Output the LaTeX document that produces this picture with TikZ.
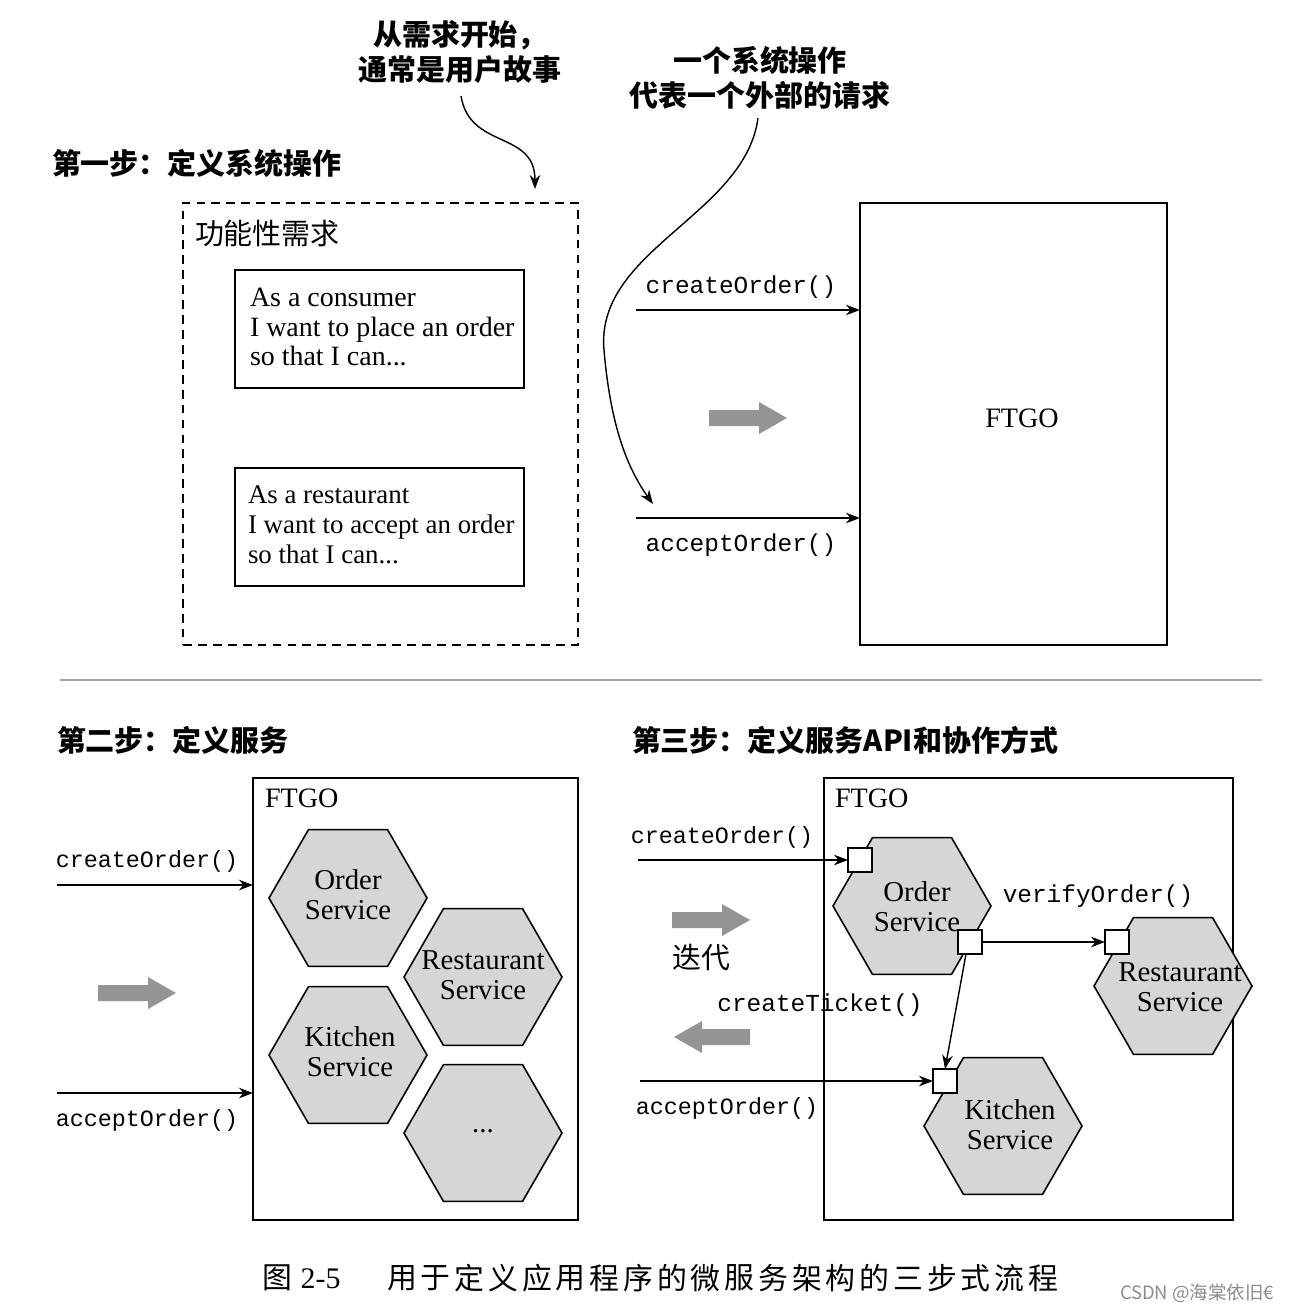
\documentclass[tikz,border=0pt]{standalone}
\usepackage{fontspec}
\setmainfont{Liberation Serif}
\setmonofont{Liberation Mono}
\newfontfamily\cjk{Noto Sans CJK SC}
\usetikzlibrary{shapes.geometric,arrows.meta}
\newcommand\GArrR[3]{\fill[garrow] (#1,#3-8) -- (#2-28,#3-8) -- (#2-28,#3-16) -- (#2,#3) -- (#2-28,#3+16) -- (#2-28,#3+8) -- (#1,#3+8) -- cycle;}
\newcommand\GArrL[3]{\fill[garrow] (#2,#3-8) -- (#1+28,#3-8) -- (#1+28,#3-16) -- (#1,#3) -- (#1+28,#3+16) -- (#1+28,#3+8) -- (#2,#3+8) -- cycle;}
\tikzset{
  every node/.style={inner sep=0pt, outer sep=0pt},
  box/.style={draw, line width=1pt, inner sep=0pt},
  hexa/.style={regular polygon, regular polygon sides=6, draw, line width=0.9pt, fill=black!16, minimum size=158*0.02cm, inner sep=0pt},
  hextxt/.style={align=center, font=\fontsize{16.4pt}{17pt}\selectfont},
  port/.style={draw, fill=white, line width=0.9pt, minimum size=24*0.02cm},
  op/.style={font=\ttfamily\fontsize{13.9pt}{15pt}\selectfont},
  opsm/.style={font=\ttfamily\fontsize{13.3pt}{15pt}\selectfont},
  head/.style={font=\cjk\bfseries\fontsize{16.5pt}{18pt}\selectfont, anchor=west},
  note/.style={font=\cjk\bfseries\fontsize{16.5pt}{20pt}\selectfont, align=center},
  story/.style={font=\fontsize{15.9pt}{17pt}\selectfont, align=left, anchor=west},
  conn/.style={-{Stealth[length=8pt,width=6pt]}, line width=0.8pt},
  garrow/.style={fill=black!42},
  ftgo/.style={font=\fontsize{16pt}{17pt}\selectfont},
}
\begin{document}
\begin{tikzpicture}[x=0.02cm, y=-0.02cm]
\useasboundingbox[fill=white] (0,0) rectangle (1296,1312);

% ---------- Step 1 ----------
\node[note] (n1) at (460,52) {从需求开始，\\通常是用户故事};
\node[note] (n2) at (760,78) {一个系统操作\\代表一个外部的请求};
\node[head] (h1) at (52,163) {第一步：定义系统操作};

\node[box, dashed, dash pattern=on 5pt off 3.5pt, minimum width=395*0.02cm, minimum height=442*0.02cm] (req) at (380.5,424) {};
\node[font=\cjk\fontsize{16.5pt}{18pt}\selectfont, anchor=west] (fr) at (195,233) {功能性需求};
\node[box, minimum width=289*0.02cm, minimum height=118*0.02cm] (us1) at (379.5,329) {};
\node[story] (us1t) at (250,327) {As a consumer\\I want to place an order\\so that I can...};
\node[box, minimum width=289*0.02cm, minimum height=118*0.02cm] (us2) at (379.5,527) {};
\node[story, font=\fontsize{15.3pt}{17pt}\selectfont] (us2t) at (248,525) {As a restaurant\\I want to accept an order\\so that I can...};

\node[box, minimum width=307*0.02cm, minimum height=442*0.02cm] (ftgo1) at (1013.5,424) {};
\node[ftgo] (ftgo1t) at (1022,418) {FTGO};

\coordinate (c1) at (636,310);
\coordinate (c2) at (636,518);
\draw[conn] (c1) -- (c1 -| ftgo1.west);
\draw[conn] (c2) -- (c2 -| ftgo1.west);
\node[op] (l1) at (741,287) {createOrder()};
\node[op] (l2) at (741,545) {acceptOrder()};
\GArrR{709}{787}{418}

\coordinate (a1s) at (461,96);
\coordinate (a1e) at (535,189);
\draw[conn] (a1s) .. controls (470,150) and (535,130) .. (a1e);
\coordinate (a2s) at (758,118);
\coordinate (a2e) at (653,504);
\draw[conn] (a2s) .. controls (745,215) and (595,250) .. (604,350) .. controls (610,420) and (625,465) .. (a2e);

\coordinate (s1) at (60,680);
\coordinate (s2) at (1262,680);
\draw[black!35, line width=0.6pt] (s1) -- (s2);

% ---------- Step 2 ----------
\node[head] (h2) at (57,740) {第二步：定义服务};
\node[box, minimum width=325*0.02cm, minimum height=442*0.02cm] (ftgo2) at (415.5,999) {};
\node[ftgo, anchor=west] (ftgo2t) at (265,798) {FTGO};
\node[hexa] (os2) at (348,898) {};
\node[hextxt] (os2t) at (348,895) {Order\\Service};
\node[hexa] (rs2) at (483,977) {};
\node[hextxt] (rs2t) at (483,975) {Restaurant\\Service};
\node[hexa] (ks2) at (348,1055) {};
\node[hextxt] (ks2t) at (350,1052) {Kitchen\\Service};
\node[hexa] (xs2) at (483,1133) {};
\node[hextxt] (xs2t) at (483,1131) {...};

\coordinate (d1) at (57,885);
\coordinate (d2) at (57,1093);
\draw[conn] (d1) -- (d1 -| ftgo2.west);
\draw[conn] (d2) -- (d2 -| ftgo2.west);
\node[opsm] (l3) at (147,861) {createOrder()};
\node[opsm] (l4) at (147,1120) {acceptOrder()};
\GArrR{98}{176}{993}

% ---------- Step 3 ----------
\node[head] (h3) at (632,740) {第三步：定义服务API和协作方式};
\node[box, minimum width=409*0.02cm, minimum height=442*0.02cm] (ftgo3) at (1028.5,999) {};
\node[ftgo, anchor=west] (ftgo3t) at (835,798) {FTGO};
\node[hexa] (os3) at (912,906) {};
\node[hextxt] (os3t) at (917,907) {Order\\Service};
\node[hexa] (rs3) at (1173,986) {};
\node[hextxt] (rs3t) at (1180,987) {Restaurant\\Service};
\node[hexa] (ks3) at (1003,1126) {};
\node[hextxt] (ks3t) at (1010,1125) {Kitchen\\Service};

\node[port] (p1) at (860,860) {};
\node[port] (p2) at (970,942) {};
\node[port] (p3) at (1117,942) {};
\node[port] (p4) at (945,1081) {};

\coordinate (e1) at (638,860);
\coordinate (e2) at (640,1081);
\draw[conn] (e1) -- (p1.west);
\draw[conn] (e2) -- (p4.west);
\draw[conn] (p2.east) -- (p3.west);
\draw[conn] ([xshift=-4*0.02cm]p2.south) -- (p4.north);

\node[opsm] (l5) at (722,837) {createOrder()};
\node[op] (l6) at (1098,896) {verifyOrder()};
\node[op] (l7) at (820,1005) {createTicket()};
\node[opsm] (l8) at (727,1108) {acceptOrder()};
\GArrR{672}{750}{920}
\node[font=\cjk\fontsize{16.5pt}{18pt}\selectfont] (it) at (701,958) {迭代};
\GArrL{674}{750}{1037}

% ---------- Caption ----------
\node[anchor=west, font=\fontsize{17pt}{18pt}\selectfont] (capn) at (262,1278) {{\cjk 图}\hspace{5pt}2-5};
\foreach \c [count=\i] in {用,于,定,义,应,用,程,序,的,微,服,务,架,构,的,三,步,式,流,程}
  \node[font=\cjk\fontsize{17pt}{18pt}\selectfont] (cap\i) at (402+33.75*\i-33.75,1278) {\c};
\node[anchor=west, text=black!45, font=\cjk\fontsize{10.5pt}{12pt}\selectfont] (wm) at (1120,1293) {CSDN @海棠依旧€};
\end{tikzpicture}
\end{document}
